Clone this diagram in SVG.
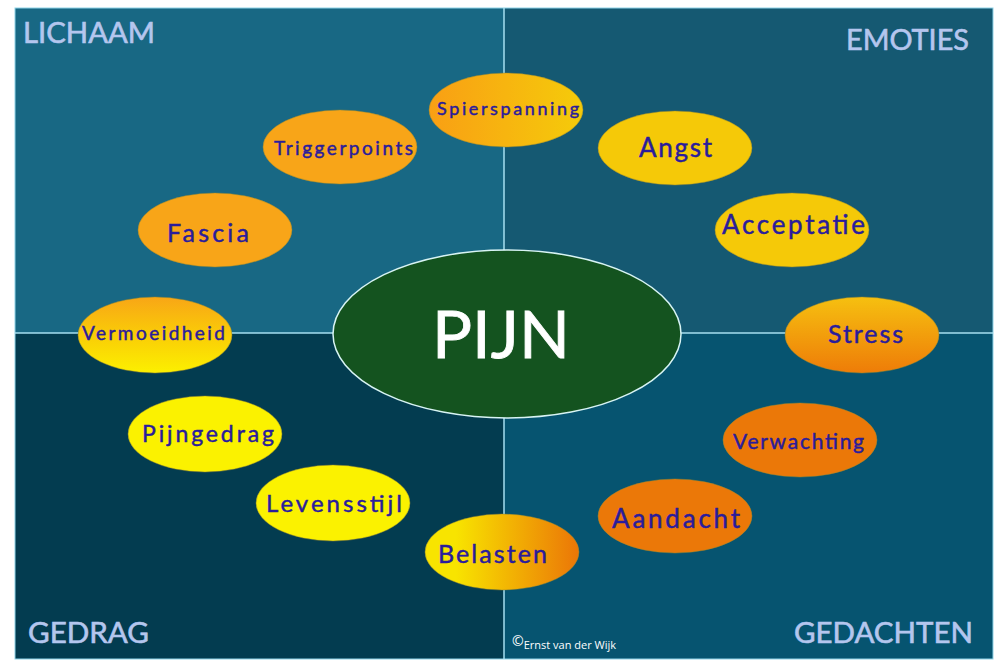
<svg xmlns="http://www.w3.org/2000/svg" width="1008" height="672" viewBox="0 0 1008 672">
<defs>
<linearGradient id="gSpier" x1="0" y1="0" x2="1" y2="0"><stop offset="0" stop-color="#f99f14"/><stop offset="1" stop-color="#f5cb0a"/></linearGradient>
<linearGradient id="gVerm" x1="0" y1="0" x2="0" y2="1"><stop offset="0" stop-color="#f8a616"/><stop offset="0.55" stop-color="#fad006"/><stop offset="1" stop-color="#fcf000"/></linearGradient>
<linearGradient id="gStress" x1="0" y1="0" x2="0" y2="1"><stop offset="0" stop-color="#f6c010"/><stop offset="1" stop-color="#ee7c08"/></linearGradient>
<linearGradient id="gBel" x1="0" y1="0" x2="1" y2="0"><stop offset="0.2" stop-color="#f8e400"/><stop offset="1" stop-color="#eb7607"/></linearGradient>
<style>
.q{stroke:none}
.div{stroke:#a6dff0;stroke-width:1.5;fill:none}
.head{font-family:"Lato","Liberation Sans",sans-serif;fill:#b4c6ee;font-size:28px;stroke:#b4c6ee;stroke-width:0.6}
.lbl{font-family:"Lato","Liberation Sans",sans-serif;fill:#2a1c9c;stroke:#2a1c9c;stroke-width:0.45}
.node ellipse{stroke:#9a8a30;stroke-width:0.8;stroke-opacity:0.6}
.orange{fill:#f8a518}
.gold{fill:#f5c908}
.yellow{fill:#fbf200}
.dorange{fill:#eb7808}
</style>
</defs>
<rect x="0" y="0" width="1008" height="672" fill="#ffffff"/>
<g id="quadrants">
<rect class="q" x="15" y="8" width="489" height="325" fill="#186884"/>
<rect class="q" x="504" y="8" width="489" height="325" fill="#155972"/>
<rect class="q" x="15" y="333" width="489" height="326" fill="#033c50"/>
<rect class="q" x="504" y="333" width="489" height="326" fill="#065470"/>
<rect x="15" y="8" width="978" height="651" fill="none" stroke="#8fd3e8" stroke-width="1"/>
</g>
<g id="dividers">
<line class="div" x1="15" y1="333" x2="993" y2="333"/>
<line class="div" x1="504" y1="8" x2="504" y2="659"/>
</g>
<g id="headings">
<text class="head" x="23" y="43" textLength="132" lengthAdjust="spacingAndGlyphs">LICHAAM</text>
<text class="head" x="846" y="50" textLength="123" lengthAdjust="spacingAndGlyphs">EMOTIES</text>
<text class="head" x="28" y="643" textLength="121" lengthAdjust="spacingAndGlyphs">GEDRAG</text>
<text class="head" x="794" y="643" textLength="179" lengthAdjust="spacingAndGlyphs">GEDACHTEN</text>
</g>
<g id="pijn">
<ellipse cx="507" cy="334" rx="174" ry="84" fill="#14531f" stroke="#d8f4f4" stroke-width="1.5"/>
<text x="432" y="358" font-family="Lato,'Liberation Sans',sans-serif" font-size="66" fill="#ffffff" stroke="#ffffff" stroke-width="0.8" textLength="138" lengthAdjust="spacingAndGlyphs">PIJN</text>
</g>
<g id="spierspanning" class="node"><ellipse cx="506" cy="110" rx="77" ry="37" fill="url(#gSpier)"/><text class="lbl" x="437" y="115" font-size="18" textLength="142" lengthAdjust="spacing">Spierspanning</text></g>
<g id="triggerpoints" class="node"><ellipse class="orange" cx="340" cy="147" rx="77" ry="37"/><text class="lbl" x="274" y="155" font-size="19" textLength="139" lengthAdjust="spacing">Triggerpoints</text></g>
<g id="fascia" class="node"><ellipse class="orange" cx="215" cy="230" rx="77" ry="37"/><text class="lbl" x="167" y="242" font-size="25" textLength="82" lengthAdjust="spacing">Fascia</text></g>
<g id="vermoeidheid" class="node"><ellipse cx="155" cy="335" rx="77" ry="38" fill="url(#gVerm)"/><text class="lbl" x="82" y="340" font-size="19" textLength="143" lengthAdjust="spacing">Vermoeidheid</text></g>
<g id="pijngedrag" class="node"><ellipse class="yellow" cx="205" cy="434" rx="77" ry="38"/><text class="lbl" x="142" y="442" font-size="23" textLength="132" lengthAdjust="spacing">Pijngedrag</text></g>
<g id="levensstijl" class="node"><ellipse class="yellow" cx="333" cy="503" rx="77" ry="38"/><text class="lbl" x="266" y="512" font-size="24" textLength="136" lengthAdjust="spacing">Levensstijl</text></g>
<g id="belasten" class="node"><ellipse cx="502" cy="552" rx="77" ry="38" fill="url(#gBel)"/><text class="lbl" x="438" y="563" font-size="25" textLength="109" lengthAdjust="spacing">Belasten</text></g>
<g id="angst" class="node"><ellipse class="gold" cx="675" cy="148" rx="77" ry="37"/><text class="lbl" x="639" y="157" font-size="26" textLength="73" lengthAdjust="spacing">Angst</text></g>
<g id="acceptatie" class="node"><ellipse class="gold" cx="792" cy="230" rx="77" ry="37"/><text class="lbl" x="722" y="234" font-size="26" textLength="143" lengthAdjust="spacing">Acceptatie</text></g>
<g id="stress" class="node"><ellipse cx="862" cy="335" rx="77" ry="38" fill="url(#gStress)"/><text class="lbl" x="828" y="343" font-size="25" textLength="75" lengthAdjust="spacing">Stress</text></g>
<g id="verwachting" class="node"><ellipse class="dorange" cx="800" cy="440" rx="77" ry="37"/><text class="lbl" x="733" y="449" font-size="21" textLength="131" lengthAdjust="spacing">Verwachting</text></g>
<g id="aandacht" class="node"><ellipse class="dorange" cx="675" cy="516" rx="77" ry="37"/><text class="lbl" x="612" y="528" font-size="26" textLength="128" lengthAdjust="spacing">Aandacht</text></g>
<g id="copyright">
<text x="512" y="649" font-family="'Open Sans','Liberation Sans',sans-serif" fill="#ffffff" font-size="11"><tspan font-size="14" dy="-3">©</tspan><tspan dy="3">Ernst van der Wijk</tspan></text>
</g>
</svg>
